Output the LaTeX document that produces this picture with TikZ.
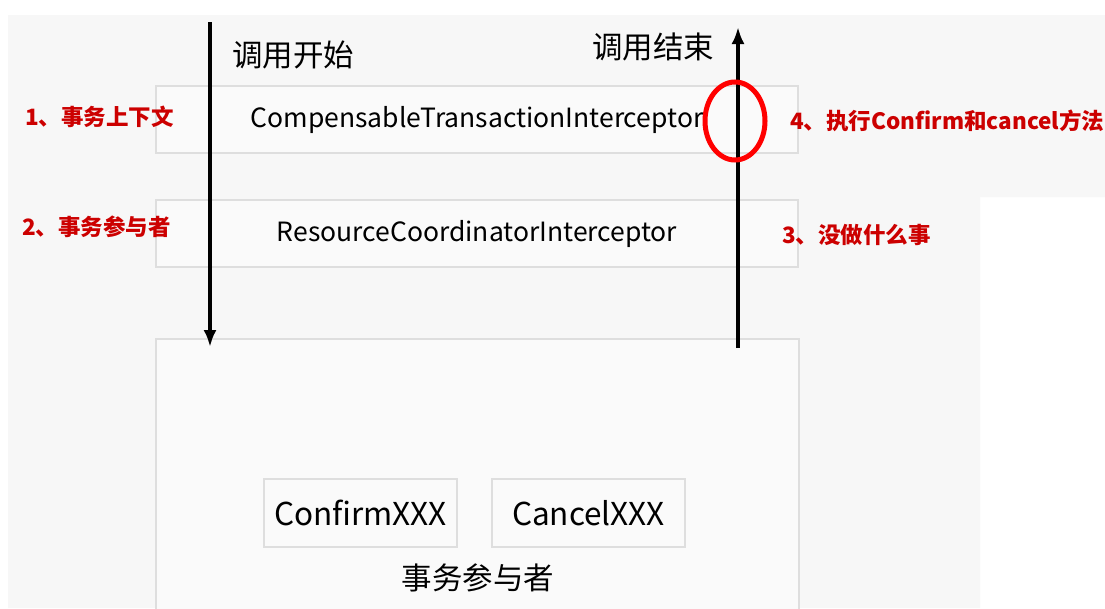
\documentclass[tikz,border=0pt]{standalone}
\usepackage{fontspec}
\setmainfont{Noto Sans CJK SC}
\usetikzlibrary{positioning}
\usetikzlibrary{arrows.meta}
\usetikzlibrary{shapes.geometric}

\begin{document}
\begin{tikzpicture}[x=1pt, y=-1pt,
    caja/.style={draw=black!13, line width=1.2pt, fill=black!2, inner sep=0pt},
    nota/.style={text=red!80!black, font=\bfseries\fontsize{22.5}{22.5}\selectfont, anchor=west, inner sep=0pt},
    titulo/.style={font=\fontsize{30.5}{30.5}\selectfont, anchor=west, inner sep=0pt},
    flecha/.style={-{Latex[length=17pt, width=13pt]}, line width=3.8pt}]
  \clip (0,0) rectangle (1105,608);
  \fill[white] (0,0) rectangle (1105,608);
  \fill[black!3] (8,15) -- (1105,15) -- (1105,197) -- (980,197) -- (980,608) -- (8,608) -- cycle;

  % Nodos
  \node[caja, minimum width=642pt, minimum height=67pt, font=\fontsize{26.5}{26.5}\selectfont] (comp) at (477,119.5) {CompensableTransactionInterceptor};
  \node[caja, minimum width=642pt, minimum height=67pt, font=\fontsize{26.5}{26.5}\selectfont] (recurso) at (477,233.5) {ResourceCoordinatorInterceptor};
  \node[caja, minimum width=643pt, minimum height=290pt] (part) at (477.5,484) {};
  \node[caja, minimum width=193pt, minimum height=68pt, font=\fontsize{31.5}{31.5}\selectfont] (confirm) at (360.5,513) {ConfirmXXX};
  \node[caja, minimum width=193pt, minimum height=68pt, font=\fontsize{31.5}{31.5}\selectfont] (cancel) at (588.5,513) {CancelXXX};
  \node[font=\fontsize{30.5}{30.5}\selectfont, inner sep=0pt] (partlbl) at (478,578) {事务参与者};

  \node[titulo] (inicio) at (232,55) {调用开始};
  \node[titulo] (final) at (592,47) {调用结束};

  \node[nota] (n1) at (25,117) {1、事务上下文};
  \node[nota] (n2) at (22,227) {2、事务参与者};
  \node[nota] (n3) at (782,235) {3、没做什么事};
  \node[nota] (n4) at (790,121) {4、执行Confirm和cancel方法};

  \coordinate (a1) at (210,22);
  \coordinate (a2) at (210,347);
  \coordinate (b1) at (738,348);
  \coordinate (b2) at (738,27);

  % Aristas
  \draw[flecha] (a1) -- (a2);
  \draw[flecha] (b1) -- (b2);

  \node[draw=red, ellipse, line width=5pt, minimum width=60pt, minimum height=78pt] (marca) at (735,121) {};
\end{tikzpicture}
\end{document}
